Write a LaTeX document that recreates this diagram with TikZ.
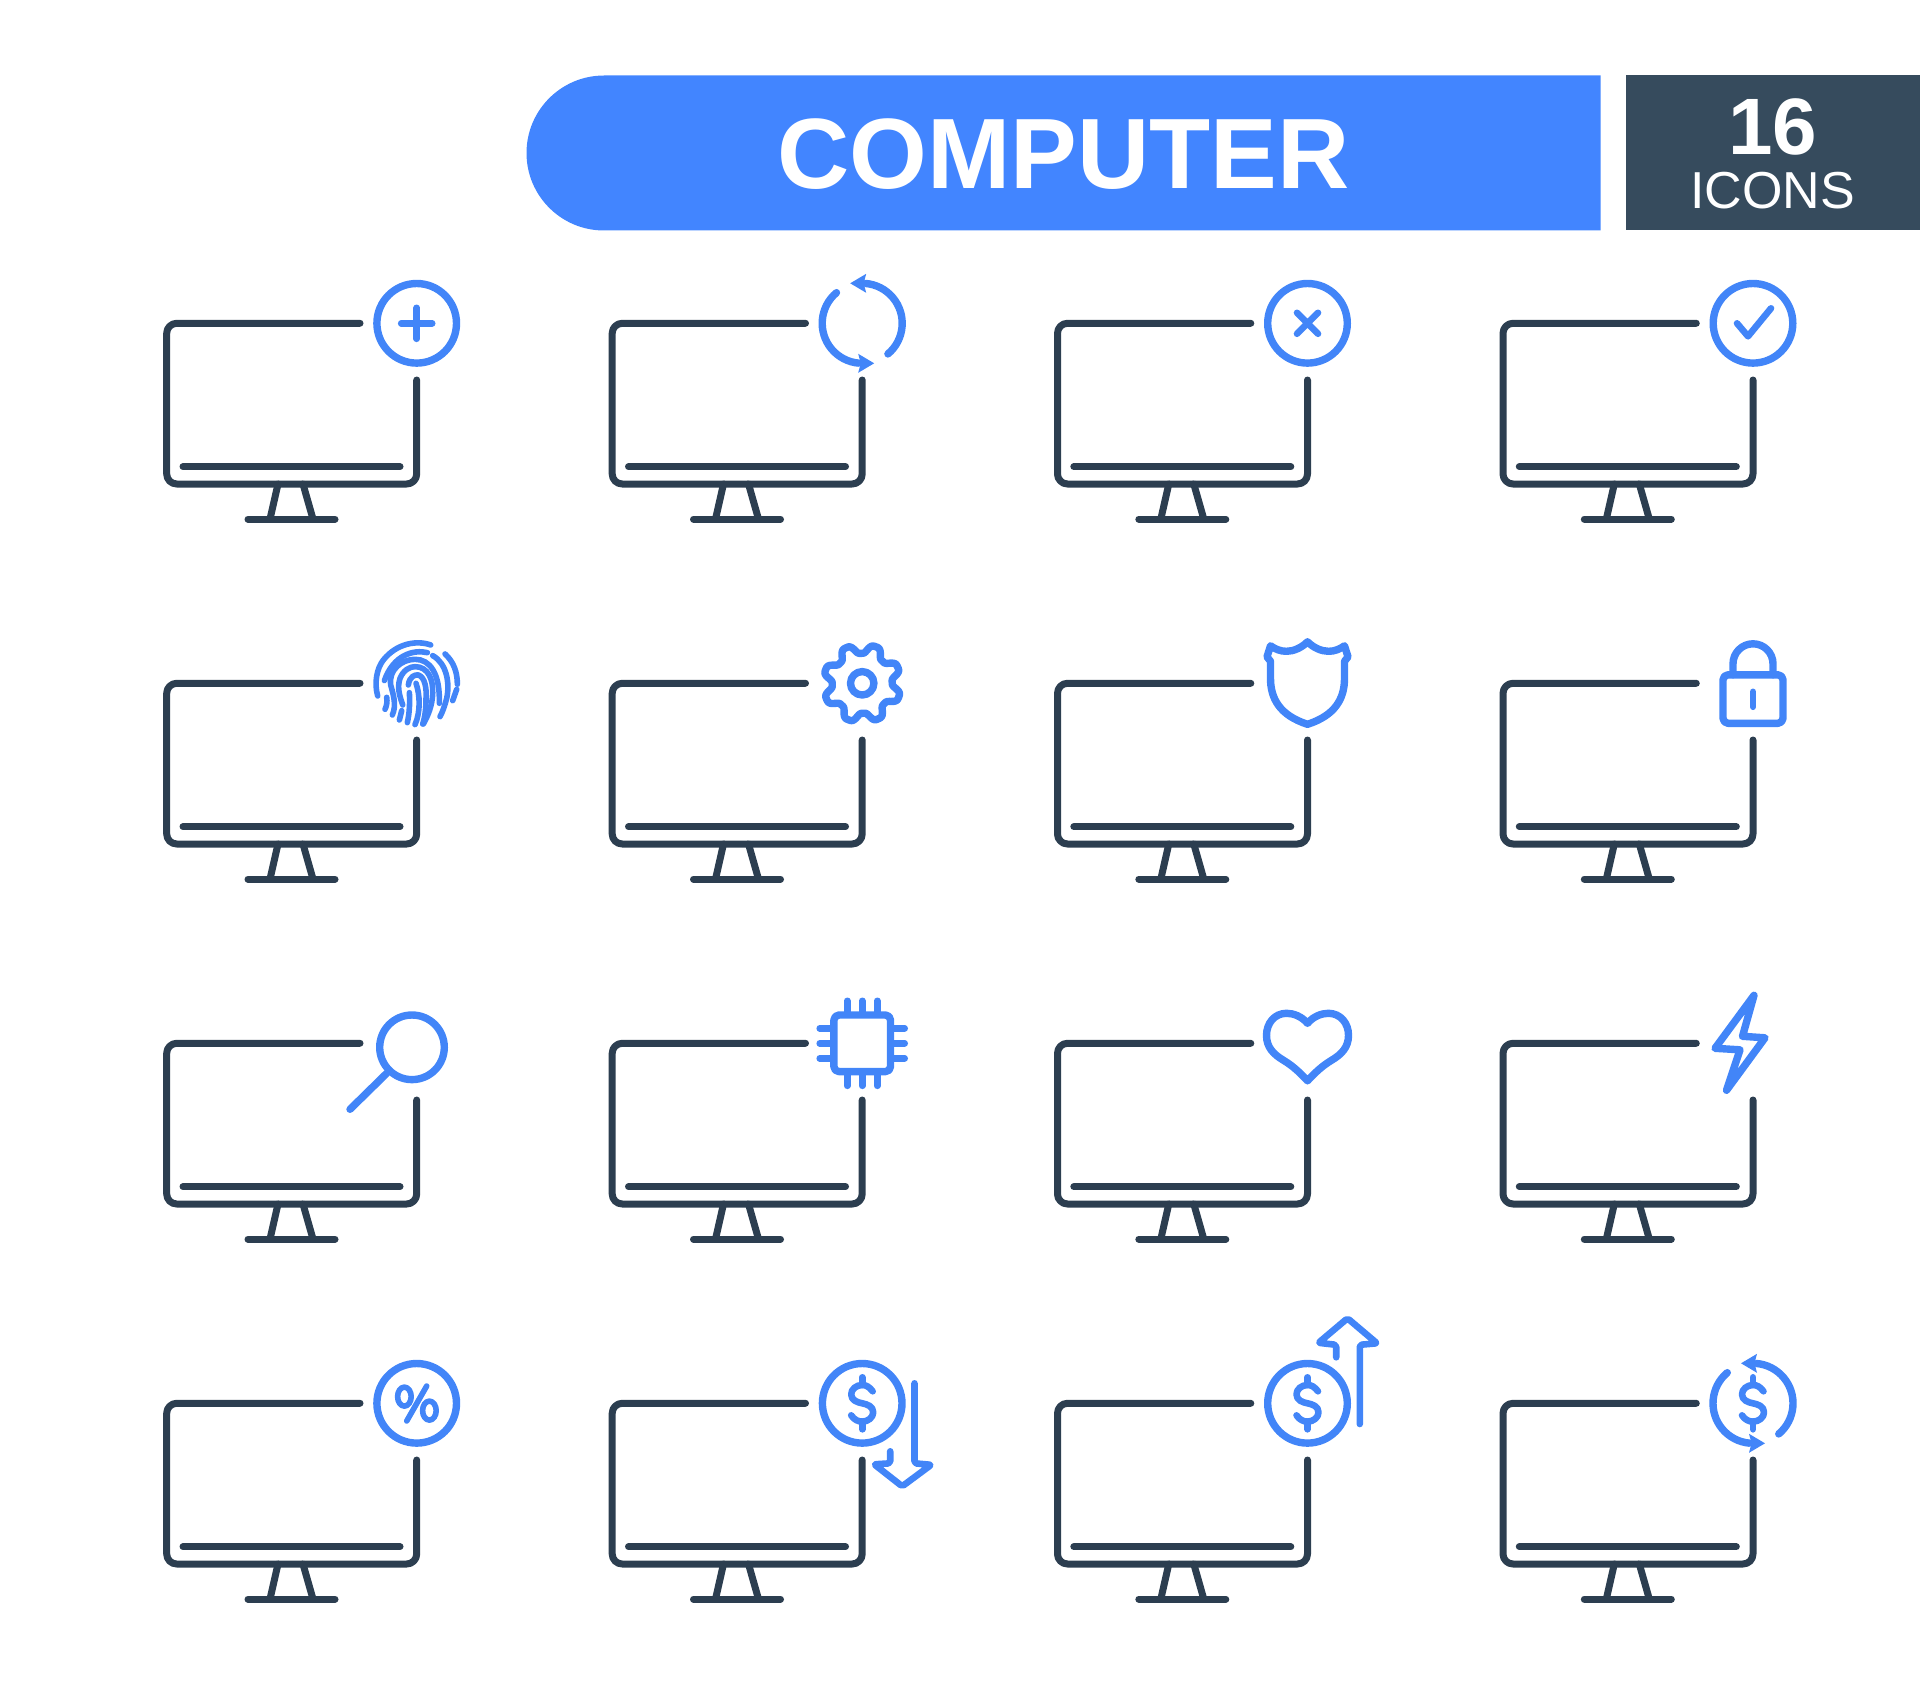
\documentclass[tikz,border=0pt]{standalone}
\usepackage{fontspec}
\setmainfont{Liberation Sans}
\definecolor{accentblue}{HTML}{4285F8}
\definecolor{bannerblue}{HTML}{4285FF}
\definecolor{monitordark}{HTML}{2C3E50}
\definecolor{panel}{HTML}{364B5D}
\tikzset{
  darkline/.style={draw=monitordark,line width=7pt,line cap=round,line join=round},
  accent/.style={draw=accentblue,line width=7.4pt,line cap=round,line join=round},
  thin accent/.style={draw=accentblue,line width=6.6pt,line cap=round,line join=round},
  monitor/.pic={
    \draw[darkline,rounded corners=10pt] (-56.7,0) -- (-250,0) -- (-250,160.7) -- (0,160.7) -- (0,56.7);
    \draw[darkline] (-233.7,143.4) -- (-16.7,143.4);
    \draw[darkline] (-168.7,195.8) -- (-81.7,195.8);
    \draw[darkline] (-138.7,160.7) -- (-146.7,195.8);
    \draw[darkline] (-113.7,160.7) -- (-103.7,195.8);
  },
  ring/.pic={\draw[accent] (0,0) circle[radius=39.8];},
  plusmark/.pic={\draw[thin accent] (-15.5,0) -- (15.5,0) (0,-15.5) -- (0,15.5);},
  crossmark/.pic={\draw[thin accent] (-10.5,-10.5) -- (10.5,10.5) (-10.5,10.5) -- (10.5,-10.5);},
  checkmark/.pic={\draw[thin accent] (-16,0) -- (-5,13) -- (18,-15);},
  refresh/.pic={
    \draw[accent] (230:40) arc[start angle=230,end angle=95,radius=40];
    \draw[accent] (50:40) arc[start angle=50,end angle=-85,radius=40];
    \fill[accentblue] (12,40) -- (-4,30.5) -- (-1.5,40) -- (-4,49.5) -- cycle;
    \fill[accentblue] (-12,-40) -- (4,-49.5) -- (1.5,-40) -- (4,-30.5) -- cycle;
  },
  dollar/.pic={
    \draw[thin accent] (10.5,-12) .. controls (7,-16.5) and (4,-18.3) .. (0,-18.3)
      .. controls (-6,-18.3) and (-11,-14) .. (-11,-9)
      .. controls (-11,-3) and (-5,-1) .. (0,0)
      .. controls (5,1) and (11,3) .. (11,9)
      .. controls (11,14) and (6,18.3) .. (0,18.3)
      .. controls (-4,18.3) and (-8,16.5) .. (-11,12);
    \draw[thin accent] (0,-26) -- (0,-18.3) (0,18.3) -- (0,26);
  },
  percentmark/.pic={
    \draw[accent,line width=5.6pt] (10,-17.3) -- (-10,17.7);
    \draw[accent,line width=5.6pt] (-12.3,-6.7) ellipse[x radius=6.8,y radius=9.5];
    \draw[accent,line width=5.6pt] (12.7,7.3) ellipse[x radius=6.8,y radius=9.5];
  },
  fingerprint/.pic={
    \begin{scope}[x=.33333pt,y=-.33333pt,shift={(-200,-190)},accent,line width=5.6pt]
      \draw (242,75) .. controls (200,60) and (140,70) .. (100,120) .. controls (80,145) and (72,190) .. (83,228);
      \draw (232,98) .. controls (190,88) and (130,105) .. (103,182);
      \draw (285,102) .. controls (310,125) and (322,155) .. (322,193);
      \draw (320,208) -- (308,242);
      \draw (110,232) .. controls (112,245) and (110,258) .. (105,268);
      \draw (127,285) .. controls (140,255) and (130,225) .. (122,195) .. controls (115,150) and (155,118) .. (195,118) .. controls (240,118) and (270,160) .. (268,250);
      \draw (248,107) .. controls (290,130) and (300,190) .. (290,235) .. controls (285,255) and (278,275) .. (270,290);
      \draw (148,300) -- (155,272);
      \draw (158,255) .. controls (150,230) and (140,205) .. (150,175) .. controls (160,150) and (180,140) .. (195,140) .. controls (235,140) and (250,180) .. (248,220) .. controls (247,255) and (235,285) .. (220,312);
      \draw (172,308) .. controls (178,280) and (180,250) .. (178,218);
      \draw (175,195) .. controls (178,170) and (195,163) .. (205,165) .. controls (225,172) and (230,205) .. (228,235) .. controls (228,265) and (225,290) .. (218,312);
      \draw (198,190) .. controls (210,225) and (212,275) .. (195,314);
    \end{scope}
  },
  gear/.pic={
    \draw[accent,smooth,line width=7.4pt] plot[domain=0:360,samples=181,variable=\t]
      ({\t-2}:{34.5+5.1*(sin(8*\t-90)+0.12*sin(3*(8*\t-90)))}) -- cycle;
    \draw[accent,line width=7.4pt] (0,0) circle[radius=11.7];
  },
  shieldmark/.pic={
    \draw[accent] (0,-41.5) .. controls (-6,-35.5) and (-14,-32) .. (-21,-32)
      .. controls (-27,-32) and (-32,-34) .. (-37,-37.5)
      -- (-40.5,-26.5) -- (-37,-22) -- (-37,-5)
      .. controls (-37,15) and (-28,32) .. (0,41)
      .. controls (28,32) and (37,15) .. (37,-5)
      -- (37,-22) -- (40.5,-26.5) -- (37,-37.5)
      .. controls (32,-34) and (27,-32) .. (21,-32)
      .. controls (14,-32) and (6,-35.5) .. (0,-41.5) -- cycle;
  },
  lockmark/.pic={
    \draw[accent,rounded corners=5pt] (-30,-8.5) rectangle (30,40);
    \draw[accent] (-20,-8.5) -- (-20,-19.5) arc[start angle=180,end angle=360,radius=20] -- (20,-8.5);
    \draw[thin accent] (0,8.5) -- (0,23.5);
  },
  chipmark/.pic={
    \draw[accent,rounded corners=5pt] (-28.3,-28.3) rectangle (28.3,28.3);
    \foreach \p in {-15,0,15}{
      \draw[thin accent] (\p,-42.5) -- (\p,-30);
      \draw[thin accent] (\p,30) -- (\p,42.5);
      \draw[thin accent] (-42.5,\p) -- (-30,\p);
      \draw[thin accent] (30,\p) -- (42.5,\p);
    }
  },
  heartmark/.pic={
    \draw[accent] (0,-20) .. controls (-6,-27) and (-14,-30) .. (-21,-30)
      .. controls (-33,-30) and (-41,-20) .. (-41,-8)
      .. controls (-41,4) and (-34,11) .. (-24,17)
      .. controls (-14,23) and (-7,30) .. (0,37.5)
      .. controls (7,30) and (14,23) .. (24,17)
      .. controls (34,11) and (41,4) .. (41,-8)
      .. controls (41,-20) and (33,-30) .. (21,-30)
      .. controls (14,-30) and (6,-27) .. (0,-20) -- cycle;
  },
  boltmark/.pic={
    \draw[accent] (1,-48) -- (-38,5) -- (-13,6.5) -- (-26.5,47) -- (12,-5.5) -- (-10.5,-7) -- cycle;
  },
  lens/.pic={
    \draw[accent] (-4.7,4) circle[radius=32.3];
    \draw[accent] (-30,30) -- (-66.7,66);
  },
  downarrow/.pic={
    \draw[thin accent,rounded corners=2pt] (52.3,-20) -- (52.3,60) -- (69,61.5) -- (40,83) -- (12,61) -- (28,60) -- (28,48);
  },
  uparrow/.pic={
    \draw[thin accent,rounded corners=2pt] (52.3,20.7) -- (52.3,-58.5) -- (69.5,-60) -- (40,-85) -- (11,-60.5) -- (28.7,-58.5) -- (28.7,-46);
  },
}
\begin{document}
\begin{tikzpicture}[x=1pt,y=-1pt]
  \useasboundingbox (0,0) rectangle (1920,1707);
  % header
  \fill[bannerblue] (604,75.5) arc[start angle=270,end angle=90,radius=77.5] -- (1600.5,230.5) -- (1600.5,75.5) -- cycle;
  \fill[panel] (1626,75.5) rectangle (1920,230.5);
  \node[anchor=base,inner sep=0pt,text=white,font=\fontsize{100}{100}\selectfont\bfseries] (title) at (1063.5,188.7) {COMPUTER};
  \node[anchor=base,inner sep=0pt,text=white,font=\fontsize{80}{80}\selectfont\bfseries] (count) at (1772.5,155) {16};
  \node[anchor=base,inner sep=0pt,text=white,font=\fontsize{52}{52}\selectfont] (unit) at (1772.5,208.5) {ICONS};
  % monitors
  \foreach \cx in {416.7,862.2,1307.5,1753}
    \foreach \cy in {323.3,683.3,1043.3,1403.3}
      \pic at (\cx,\cy) {monitor};
  % row 1
  \pic at (416.7,323.3) {ring}; \pic at (416.7,323.3) {plusmark};
  \pic at (862.2,323.3) {refresh};
  \pic at (1307.5,323.3) {ring}; \pic at (1307.5,323.3) {crossmark};
  \pic at (1753,323.3) {ring}; \pic at (1753,323.3) {checkmark};
  % row 2
  \pic at (416.7,683.3) {fingerprint};
  \pic at (862.2,683.3) {gear};
  \pic at (1307.5,683.3) {shieldmark};
  \pic at (1753,683.3) {lockmark};
  % row 3
  \pic at (416.7,1043.3) {lens};
  \pic at (862.2,1043.3) {chipmark};
  \pic at (1307.5,1043.3) {heartmark};
  \pic at (1753,1043.3) {boltmark};
  % row 4
  \pic at (416.7,1403.3) {ring}; \pic at (416.7,1403.3) {percentmark};
  \pic at (862.2,1403.3) {ring}; \pic at (862.2,1403.3) {dollar}; \pic at (862.2,1403.3) {downarrow};
  \pic at (1307.5,1403.3) {ring}; \pic at (1307.5,1403.3) {dollar}; \pic at (1307.5,1403.3) {uparrow};
  \pic at (1753,1403.3) {refresh}; \pic at (1753,1403.3) {dollar};
\end{tikzpicture}
\end{document}
